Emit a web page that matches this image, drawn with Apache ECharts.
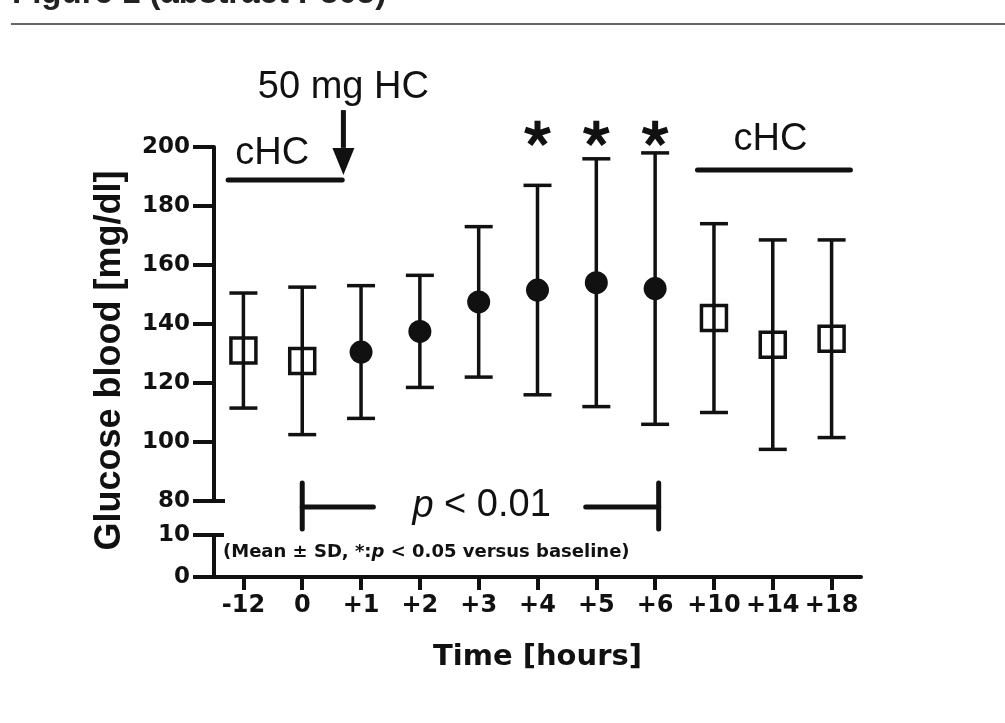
<!DOCTYPE html>
<html>
<head>
<meta charset="utf-8">
<title>Figure 1</title>
<script src="https://cdn.jsdelivr.net/npm/echarts@6/dist/echarts.min.js"></script>
<style>
  html, body { margin: 0; padding: 0; background: #fff; }
  #main { width: 1005px; height: 723px; }
</style>
</head>
<body>
<div id="main"></div>
<script>
// time points and blood glucose (mean, SD)
const categories = ['-12', '0', '+1', '+2', '+3', '+4', '+5', '+6', '+10', '+14', '+18'];
const glucoseMean = [131, 127.5, 130.5, 137.5, 147.5, 151.5, 154, 152, 142, 133, 135];
const glucoseSD = [19.5, 25, 22.5, 19, 25.5, 35.5, 42, 46, 32, 35.5, 33.5];
const phase = ['cHC', 'cHC', 'HC', 'HC', 'HC', 'HC', 'HC', 'HC', 'cHC', 'cHC', 'cHC'];
const significant = ['+4', '+5', '+6'];
const upperRange = [80, 200, 20];
const lowerRange = [0, 10, 10];

const ink = '#111';
const GL = 214, GR = 144;
const G1_TOP = 147, G1_H = 354;
const G2_TOP = 535, G2_H = 42;
const tickFont = { color: ink, fontFamily: 'DejaVu Sans', fontWeight: 'bold', fontSize: 23 };

let chartDom = document.getElementById('main');
let myChart = echarts.init(chartDom, null, { renderer: 'canvas' });

let errData = categories.map((c, i) => [i, glucoseMean[i] - glucoseSD[i], glucoseMean[i] + glucoseSD[i]]);
let squares = [], dots = [];
categories.forEach((c, i) => {
    (phase[i] === 'cHC' ? squares : dots).push([i, glucoseMean[i]]);
});

function drawErr(params, api) {
    let lo = api.coord([api.value(0), api.value(1)]);
    let hi = api.coord([api.value(0), api.value(2)]);
    let st = { stroke: ink, lineWidth: 3.5 };
    let hw = 14;
    return {
        type: 'group',
        children: [
            { type: 'line', shape: { x1: lo[0], y1: lo[1], x2: hi[0], y2: hi[1] }, style: st },
            { type: 'line', shape: { x1: lo[0] - hw, y1: lo[1], x2: lo[0] + hw, y2: lo[1] }, style: st },
            { type: 'line', shape: { x1: hi[0] - hw, y1: hi[1], x2: hi[0] + hw, y2: hi[1] }, style: st }
        ]
    };
}

// annotations drawn on a hidden value x axis (category index units)
function drawNotes(params, api) {
    const p = (x, y) => api.coord([x, y]);
    const kids = [];
    const line = (a, b, w, cap) => kids.push({
        type: 'line', shape: { x1: a[0], y1: a[1], x2: b[0], y2: b[1] },
        style: { stroke: ink, lineWidth: w, lineCap: cap || 'round' }
    });
    const text = (t, at, font, extra) => kids.push({
        type: 'text',
        style: Object.assign({ text: t, x: at[0], y: at[1], fill: ink, font: font, align: 'center', verticalAlign: 'middle' }, extra || {})
    });

    // cHC periods
    line(p(-0.26, 188.8), p(1.68, 188.8), 5);
    text('cHC', p(0.49, 197.8), '38px "Liberation Sans"');
    line(p(7.72, 192.2), p(10.32, 192.2), 5);
    text('cHC', p(8.96, 202.7), '38px "Liberation Sans"');

    // 50 mg HC arrow
    text('50 mg HC', p(1.70, 220.2), '38px "Liberation Sans"');
    let top = p(1.70, 212.5), base = p(1.70, 199.7), tip = p(1.70, 190.5);
    line(top, base, 5, 'butt');
    kids.push({
        type: 'polygon',
        shape: { points: [[base[0] - 11, base[1]], [base[0] + 11, base[1]], tip] },
        style: { fill: ink }
    });

    // significance stars
    significant.forEach(s => {
        let c = p(categories.indexOf(s), 204.5);
        for (let k = 0; k < 5; k++) {
            let a = (-90 + k * 72) * Math.PI / 180;
            line(c, [c[0] + 13 * Math.cos(a), c[1] + 13 * Math.sin(a)], 6, 'butt');
        }
    });

    // p < 0.01 bracket
    let l = p(1, 78), r = p(7.06, 78);
    line([l[0], l[1] - 24], [l[0], l[1] + 22], 5);
    line(l, p(2.21, 78), 5);
    line(p(5.82, 78), r, 5);
    line([r[0], r[1] - 24], [r[0], r[1] + 22], 5);
    text('{i|p} < 0.01', p(4.05, 78.3), '38px "Liberation Sans"', {
        rich: { i: { font: 'italic 38px "Liberation Sans"', fill: ink } }
    });

    return { type: 'group', children: kids };
}

let yAxisBase = (grid, range) => ({
    gridIndex: grid, type: 'value', min: range[0], max: range[1], interval: range[2],
    axisLine: { show: true, onZero: false, lineStyle: { color: ink, width: 4 } },
    axisTick: { show: true, length: 21, lineStyle: { color: ink, width: 4 } },
    axisLabel: Object.assign({ margin: 24 }, tickFont),
    splitLine: { show: false }
});

let option = {
    animation: false,
    backgroundColor: '#fff',
    grid: [
        { left: GL, right: GR, top: G1_TOP, height: G1_H },
        { left: GL, right: GR, top: G2_TOP, height: G2_H }
    ],
    xAxis: [
        { gridIndex: 0, type: 'category', data: categories, show: false },
        {
            gridIndex: 1, type: 'category', data: categories,
            axisLine: { show: true, onZero: false, lineStyle: { color: ink, width: 4 } },
            axisTick: { show: true, alignWithLabel: true, interval: 0, length: 13, lineStyle: { color: ink, width: 4 } },
            axisLabel: { interval: 0, margin: 17, fontSize: 24, color: ink, fontFamily: 'DejaVu Sans', fontWeight: 'bold' },
            name: 'Time [hours]', nameLocation: 'middle', nameGap: 66,
            nameTextStyle: { color: ink, fontFamily: 'DejaVu Sans', fontWeight: 'bold', fontSize: 29 }
        },
        { gridIndex: 0, type: 'value', min: -0.5, max: 10.5, show: false, axisLine: { onZero: false } }
    ],
    yAxis: [
        yAxisBase(0, upperRange),
        yAxisBase(1, lowerRange)
    ],
    series: [
        {
            type: 'custom', name: 'SD', xAxisIndex: 0, yAxisIndex: 0,
            renderItem: drawErr, data: errData, z: 2, silent: true
        },
        {
            type: 'scatter', name: 'cHC', xAxisIndex: 0, yAxisIndex: 0,
            symbol: 'rect', symbolSize: 25, data: squares, z: 3, silent: true,
            itemStyle: { color: 'rgba(0,0,0,0)', borderColor: ink, borderWidth: 3.5, opacity: 1 }
        },
        {
            type: 'scatter', name: 'HC', xAxisIndex: 0, yAxisIndex: 0,
            symbol: 'circle', symbolSize: 23, data: dots, z: 3, silent: true,
            itemStyle: { color: ink, opacity: 1 }
        },
        {
            type: 'custom', name: 'notes', xAxisIndex: 2, yAxisIndex: 0,
            renderItem: drawNotes, data: [[5, 140]], z: 4, silent: true, clip: false
        }
    ],
    graphic: [
        {
            type: 'text', x: 12, y: -6.5,
            style: { text: 'Figure 1 (abstract P305)', font: 'bold 33px "Liberation Sans"', fill: '#222', verticalAlign: 'middle' }
        },
        { type: 'line', shape: { x1: 11, y1: 24, x2: 1005, y2: 24 }, style: { stroke: '#333', lineWidth: 1.5 } },
        {
            type: 'text', x: 110, y: 360.5, rotation: Math.PI / 2,
            style: { text: 'Glucose blood [mg/dl]', font: 'bold 36px "Liberation Sans"', fill: ink, align: 'center', verticalAlign: 'middle' }
        },
        {
            type: 'text', x: 223, y: 552,
            style: {
                text: '(Mean ± SD, *:{i|p} < 0.05 versus baseline)',
                font: 'bold 18px "DejaVu Sans"', fill: ink, verticalAlign: 'middle',
                rich: { i: { font: 'italic bold 18px "DejaVu Sans"', fill: ink } }
            }
        },
        // axis break marks
        { type: 'line', shape: { x1: GL, y1: G1_TOP + G1_H, x2: GL + 11, y2: G1_TOP + G1_H }, style: { stroke: ink, lineWidth: 4 } },
        { type: 'line', shape: { x1: GL, y1: G2_TOP, x2: GL + 10, y2: G2_TOP }, style: { stroke: ink, lineWidth: 4 } }
    ]
};

myChart.setOption(option);
window.addEventListener('resize', () => {
    myChart.resize();
});
</script>
</body>
</html>
